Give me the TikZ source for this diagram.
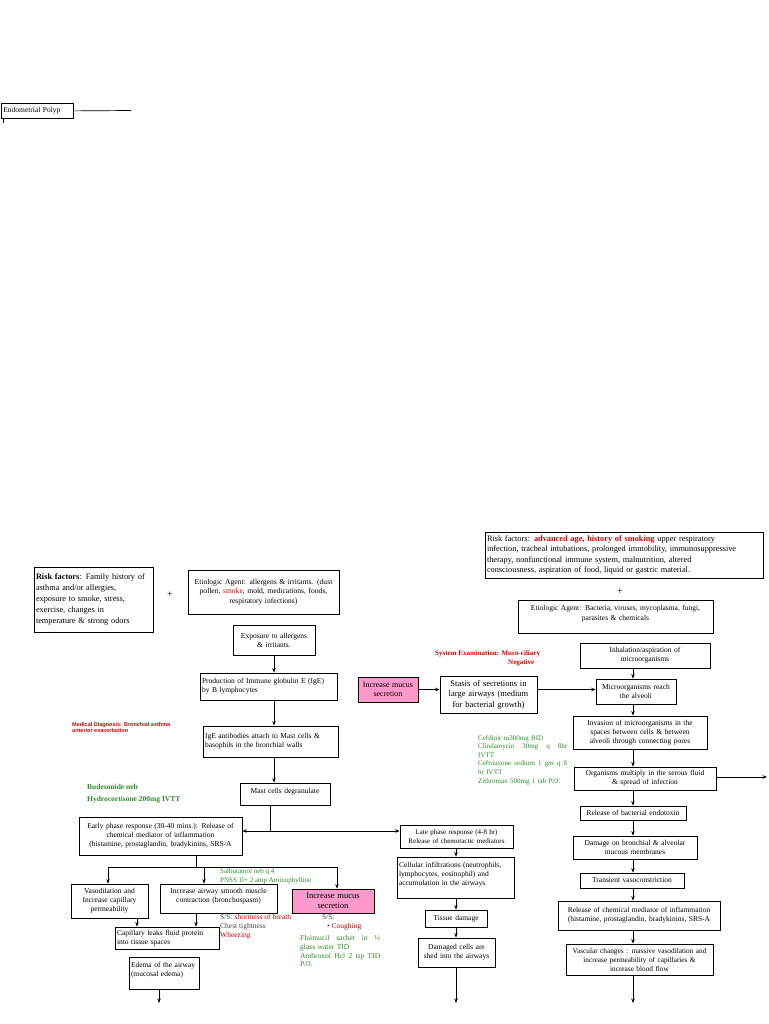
\documentclass[tikz,border=0pt]{standalone}
\usepackage{fontspec}
\setmainfont{Liberation Serif}
\newfontfamily\sansf{Liberation Sans}
\usetikzlibrary{arrows.meta}
\definecolor{rd}{HTML}{D00000}
\definecolor{gr}{HTML}{2E8B2E}
\definecolor{pk}{HTML}{FF99CC}
\definecolor{dg}{HTML}{444444}
\newcommand\jf{\hskip 0pt plus 1filll\relax}
\newcommand\fs[2]{\fontsize{#1}{#2}\selectfont}
\begin{document}
\begin{tikzpicture}[x=1pt,y=-1pt,
 box/.style={draw, line width=0.8pt, inner xsep=2pt, inner ysep=1pt, font=\fs{7.5}{9}},
 pinkbox/.style={box, fill=pk},
 ar/.style={-{Stealth[length=4.5pt,width=3.5pt]}, line width=0.7pt},
 ln/.style={line width=0.7pt},
 txt/.style={inner sep=0pt, anchor=north west, align=left},
]
\useasboundingbox (0,0) rectangle (768,1024);
\fill[white] (0,0) rectangle (768,1024);

% top label
\node[box, anchor=north west, minimum width=72, minimum height=15, text width=68, align=left] (ep) at (1,103) {Endometrial Polyp};
\coordinate (epend) at (131,110.5);
\draw[ln] (ep.east) -- (epend);
\draw[ln] ([xshift=2pt]ep.south west) -- ++(0,4);

% ===== left chart =====
\node[box, minimum width=119, minimum height=65, text width=115, align=left, font=\fs{8.3}{11}] (rf1) at (93.5,599.5)
 {\textbf{Risk factors}: Family history of\\ asthma and/or allergies,\\ exposure to smoke, stress,\\ exercise, changes in\\ temperature \& strong odors};
\node[font=\fs{10}{12}] (plus1) at (170,595) {+};
\node[box, minimum width=151, minimum height=44, text width=147, align=center, font=\fs{7.6}{9.8}] (et1) at (263.5,592)
 {Etiologic Agent: allergens \& irritants. (dust\\ pollen, \textcolor{rd}{smoke}, mold, medications, foods,\\ respiratory infections)};
\node[box, minimum width=82, minimum height=30, text width=78, align=center] (exp) at (274,640) {Exposure to allergens\\ \& irritants.};
\node[box, minimum width=137, minimum height=27, text width=133, align=left] (prod) at (268.5,686.5) {Production of Immune globulin E (IgE)\\ by B lymphocytes};
\node[box, minimum width=135, minimum height=31, text width=131, align=left] (ige) at (270.5,741.5) {IgE antibodies attach to Mast cells \&\\ basophils in the bronchial walls};
\node[box, minimum width=90, minimum height=22, text width=86, align=center] (mast) at (285,794) {Mast cells degranulate\\[-2pt]\mbox{}};
\draw[ar] (exp.south) -- (exp.south |- prod.north);
\draw[ar] (exp.south |- prod.south) -- (exp.south |- ige.north);
\draw[ar] (exp.south |- ige.south) -- (exp.south |- mast.north);

\node[box, minimum width=163, minimum height=38, text width=159, align=center] (early) at (160.5,836)
 {Early phase response (30-40 mins.): Release of\\ chemical mediator of inflammation\\ (histamine, prostaglandin, bradykinins, SRS-A};
\node[box, minimum width=113, minimum height=23, text width=109, align=center, font=\fs{7}{9}] (late) at (456.5,836.5)
 {Late phase response (4-8 hr)\\ Release of chemotactic mediators};
\coordinate (mj) at (270,831);
\draw[ln] (mj |- mast.south) -- (mj);
\draw[ar] (mj) -- (early.east |- mj);
\draw[ar] (mj) -- (late.west |- mj);

\node[box, minimum width=77, minimum height=34, text width=73, align=center] (vaso) at (109.5,901) {Vasodilation and\\ Increase capillary\\ permeability};
\node[box, minimum width=117, minimum height=29, text width=113, align=center] (air) at (218.5,898.5) {Increase airway smooth muscle\\ contraction (bronchospasm)\\[-2pt]\mbox{}};
\node[pinkbox, minimum width=82, minimum height=24, text width=78, align=center, font=\fs{8.5}{10}] (pink2) at (333,901) {Increase mucus\\ secretion};
\coordinate (bj) at (196,867);
\coordinate (bl) at (108,867);
\coordinate (bm) at (204,867);
\coordinate (br) at (337,867);
\draw[ln] (bj |- early.south) -- (bj);
\draw[ln] (bl) -- (br);
\draw[ar] (bl) -- (bl |- vaso.north);
\draw[ar] (bm) -- (bm |- air.north);
\draw[ar] (br) -- (br |- pink2.north);

\node[box, minimum width=104, minimum height=22, text width=100, align=left] (cap) at (167,938) {Capillary leaks fluid protein\\ into tissue spaces};
\coordinate (v1) at (137,0);
\coordinate (v2) at (196,0);
\draw[ar] (v1 |- vaso.south) -- (v1 |- cap.north);
\draw[ar] (v2 |- air.south) -- (v2 |- cap.north);
\node[box, minimum width=70, minimum height=32, text width=66, align=left] (edema) at (164,973) {Edema of the airway\\ (mucosal edema)\\[-2pt]\mbox{}};
\coordinate (edend) at (159,1003);
\draw[ar] (edema.south -| edend) -- (edend);

\node[box, minimum width=117, minimum height=41, text width=113, align=left] (cell) at (455.5,877.5)
 {Cellular infiltrations (neutrophils,\\ lymphocytes, eosinophil) and\\ accumulation in the airways\\[-1pt]\mbox{}};
\node[box, minimum width=62, minimum height=17, text width=58, align=center] (tis) at (456,918.5) {Tissue damage};
\node[box, minimum width=77, minimum height=29, text width=73, align=center] (dmg) at (456.5,952.5) {Damaged cells are\\ shed into the airways};
\coordinate (lc) at (456,1003);
\draw[ar] (lc |- late.south) -- (lc |- cell.north);
\draw[ar] (lc |- cell.south) -- (lc |- tis.north);
\draw[ar] (lc |- tis.south) -- (lc |- dmg.north);
\draw[ar] (lc |- dmg.south) -- (lc);

% annotations left
\node[txt, font=\sansf\bfseries\fs{5.5}{6.8}, text=rd] (md) at (72,722) {Medical Diagnosis: Bronchial asthma\\ anterior exacerbation};
\node[txt, font=\bfseries\fs{7.5}{12}, text=gr] (bud) at (87,784) {Budesonide neb\\ Hydrocortisone 200mg IVTT};
\node[txt, font=\fs{7}{8.8}, text=gr] (sal) at (220,868.5) {Salbutamol neb q 4\\ PNSS 1l+ 2 amp Aminophylline};
\node[txt, font=\fs{7.5}{9}, text=dg] (ss1) at (220,914) {S/S: \textcolor{rd}{shortness of breath}\\ Chest tightness\\ \textcolor{rd}{Wheezing}};
\node[txt, font=\fs{7.5}{9}, text=dg] (ss2) at (322,914) {S/S:};
\node[txt, font=\fs{7.5}{9}, text=rd] (cough) at (327,923) {\textcolor{dg}{\textbullet}\ Coughing};
\node[txt, font=\fs{7.5}{8.8}, text=gr, text width=80] (flu) at (300,935)
 {Fluimucil\jf sachet\jf in\jf ½\\ glass water TID\\ Ambroxol\jf Hcl\jf 2\jf tsp\jf TID\\ P.O.};

% ===== right chart =====
\node[box, minimum width=278, minimum height=46, text width=274, align=left, font=\fs{8.3}{10.5}] (rf2) at (624,555)
 {Risk factors: \textcolor{rd}{\textbf{advanced age, history of smoking}} upper respiratory\\ infection, tracheal intubations, prolonged immobility, immunosuppressive\\ therapy, nonfunctional immune system, malnutrition, altered\\ consciousness, aspiration of food, liquid or gastric material.};
\node[font=\fs{10}{12}] (plus2) at (620,592) {+};
\node[box, minimum width=195, minimum height=33, text width=191, align=center, font=\fs{7.5}{10}] (et2) at (615.5,616.5)
 {Etiologic Agent: Bacteria, viruses, mycoplasma, fungi,\\ parasites \& chemicals\\[-3pt]\mbox{}};
\node[box, minimum width=130, minimum height=25, text width=126, align=center] (inh) at (645,655.5) {Inhalation/aspiration of\\ microorganisms};
\node[box, minimum width=80, minimum height=25, text width=76, align=center] (micro) at (636,691.5) {Microorganisms reach\\ the alveoli};
\node[box, minimum width=134, minimum height=33, text width=130, align=center] (inv) at (640,732.5) {Invasion of microorganisms in the\\ spaces between cells \& between\\ alveoli through connecting pores};
\node[box, minimum width=142, minimum height=23, text width=138, align=center] (org) at (645,778.5) {Organisms multiply in the serous fluid\\ \& spread of infection};
\node[box, minimum width=106, minimum height=14, text width=102, align=center] (endo) at (633,813) {Release of bacterial endotoxin};
\node[box, minimum width=124, minimum height=23, text width=120, align=center] (dam) at (635,847.5) {Damage on bronchial \& alveolar\\ mucous membranes};
\node[box, minimum width=104, minimum height=15, text width=100, align=center] (tra) at (632,880.5) {Transient vasoconstriction};
\node[box, minimum width=162, minimum height=29, text width=158, align=center] (rel) at (639,915.5) {Release of chemical mediator of inflammation\\ (histamine, prostaglandin, bradykinins, SRS-A};
\node[box, minimum width=147, minimum height=31, text width=143, align=center, font=\fs{7.3}{9}] (vas) at (639.5,959.5) {Vascular changes : massive vasodilation and\\ increase permeability of capillaries \&\\ increase blood flow};
\coordinate (rc) at (633,1003);
\draw[ar] (rc |- inh.south) -- (rc |- micro.north);
\draw[ar] (rc |- micro.south) -- (rc |- inv.north);
\draw[ar] (rc |- inv.south) -- (rc |- org.north);
\draw[ar] (rc |- org.south) -- (rc |- endo.north);
\draw[ar] (rc |- endo.south) -- (rc |- dam.north);
\draw[ar] (rc |- dam.south) -- (rc |- tra.north);
\draw[ar] (rc |- tra.south) -- (rc |- rel.north);
\draw[ar] (rc |- rel.south) -- (rc |- vas.north);
\draw[ar] (rc |- vas.south) -- (rc);
\coordinate (oe) at (767,777);
\draw[ar] (org.east |- oe) -- (oe);

\node[pinkbox, minimum width=60, minimum height=25, text width=56, align=center, font=\fs{8}{9.5}] (pink1) at (388,689.5) {Increase mucus\\ secretion};
\node[box, minimum width=97, minimum height=37, text width=93, align=center, font=\fs{8.5}{10.5}] (stasis) at (488.5,694.5) {Stasis of secretions in\\ large airways (medium\\ for bacterial growth)};
\draw[ar] (pink1.east) -- (stasis.west |- pink1.east);
\draw[ar] (stasis.east |- pink1.east) -- (micro.west |- pink1.east);

\node[inner sep=0pt, anchor=base west, font=\bfseries\fs{7}{8}, text=rd] (se1) at (435,655) {System Examination: Muco-ciliary};
\node[inner sep=0pt, anchor=base west, font=\bfseries\fs{7}{8}, text=rd] (se2) at (508,664) {Negative};
\node[txt, font=\fs{7}{8.6}, text=gr, text width=89] (rx) at (478,735)
 {Cefdinir m300mg BID\\ Clindamycin\jf 30mg\jf q\jf 8hr\\ IVTT\\ Ceftriaxone\jf sodium\jf 1\jf gm\jf q\jf 8\\ hr IVTT\\ Zithromax 500mg 1 tab P.O.};
\end{tikzpicture}
\end{document}
